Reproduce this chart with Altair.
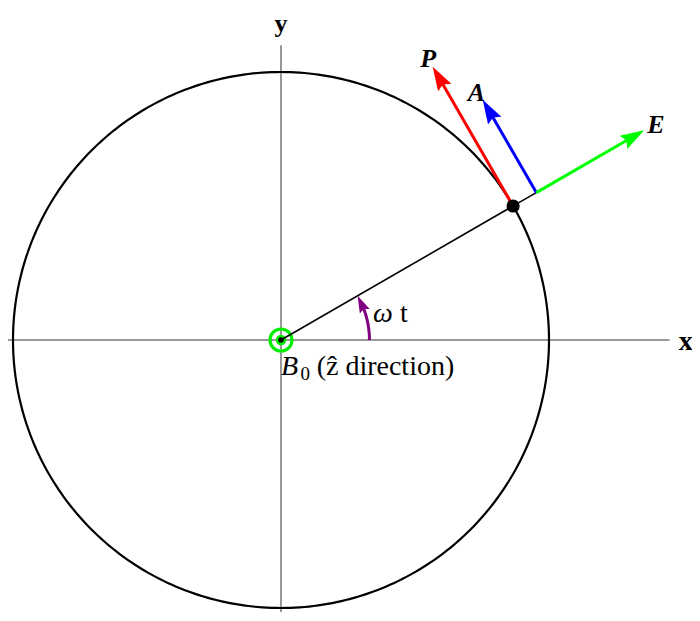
import numpy as np
import pandas as pd
import altair as alt

# ---------------- values (data units: circle radius = 1) -------------
omega_t_deg = 30.0            # angle of the rotating radius
circle_radius = 1.0
radius_extension = 1.1        # radius line is drawn out to this radius
x_axis_range = [-1.05, 1.45]
y_axis_range = [-1.05, 1.1]

vec_names = ["P", "A", "E"]
vec_start_r = [1.0, 1.1, 1.1]          # where each vector starts, along the radius
vec_rel_angle = [90.0, 90.0, 0.0]      # direction relative to the radius (deg)
vec_length = [0.6, 0.4, 0.465]
vec_colors = ["#ff0000", "#0000ff", "#00ff00"]

arc_radius = 0.33
arc_color = "#800080"
arc_head_dir = 115.0

sym_text = ["P", "A", "E"]
sym_x = [0.549, 0.729, 1.399]
sym_y = [1.02, 0.892, 0.772]

x_lab_text = ["x"]
x_lab_x = [1.51]
x_lab_y = [-0.037]
y_lab_text = ["y"]
y_lab_x = [0.0]
y_lab_y = [1.149]

b_text = ["B"]
b_x = [0.0]
b_y = [-0.1306]
sub_text = ["0"]
sub_x = [0.073]
sub_y = [-0.149]
rest_text = ["(ẑ direction)"]
rest_x = [0.133]
rest_y = [-0.1306]

om_text = ["ω"]
om_x = [0.343]
om_y = [0.067]
t_text = ["t"]
t_x = [0.444]
t_y = [0.067]

# ---------------- layout (pixels) ----------------
K = 268.0                 # pixels per data unit
OX, OY = 281.0, 340.0     # page position of the origin
MARGIN = 8.0
W, H = 684, 604
xdom = [(MARGIN - OX) / K, (MARGIN + W - OX) / K]
ydom = [(OY - MARGIN - H) / K, (OY - MARGIN) / K]
HEAD_PX = 24.0
ARC_HEAD_PX = 17.0
HEAD_PATH = "M0,0 L-0.32,1 L0,0.85 L0.32,1 Z"

xs = alt.Scale(domain=xdom)
ys = alt.Scale(domain=ydom)


def X(f="x"):
    return alt.X(f"{f}:Q", scale=xs, axis=None)


def Y(f="y"):
    return alt.Y(f"{f}:Q", scale=ys, axis=None)


th = np.deg2rad(omega_t_deg)

# axes
axes_df = pd.DataFrame({
    "x": [x_axis_range[0], 0.0], "x2": [x_axis_range[1], 0.0],
    "y": [0.0, y_axis_range[0]], "y2": [0.0, y_axis_range[1]],
})
axes = alt.Chart(axes_df).mark_rule(color="#333333", strokeWidth=1).encode(
    x=X(), x2="x2:Q", y=Y(), y2="y2:Q")

# circle
ang = np.deg2rad(np.arange(0, 361, 1.0))
circ_df = pd.DataFrame({"x": circle_radius * np.cos(ang), "y": circle_radius * np.sin(ang),
                        "i": np.arange(len(ang))})
circle = alt.Chart(circ_df).mark_line(color="black", strokeWidth=2.2).encode(
    x=X(), y=Y(), order="i:Q")

# green B0 symbol at origin
org_df = pd.DataFrame({"x": [0.0], "y": [0.0]})
ring = alt.Chart(org_df).mark_point(shape="circle", filled=False, color="#00ee00",
                                    strokeWidth=3.2, size=484, opacity=1).encode(x=X(), y=Y())
gdisk = alt.Chart(org_df).mark_point(shape="circle", filled=True, color="#00ee00",
                                     size=110, opacity=1, strokeWidth=0).encode(x=X(), y=Y())

# radius line
rad_df = pd.DataFrame({"x": [0.0], "y": [0.0],
                       "x2": [radius_extension * np.cos(th)], "y2": [radius_extension * np.sin(th)]})
radius = alt.Chart(rad_df).mark_rule(color="black", strokeWidth=1.6).encode(
    x=X(), x2="x2:Q", y=Y(), y2="y2:Q")

# vectors
rows = []
for n, r0, ra, L, c in zip(vec_names, vec_start_r, vec_rel_angle, vec_length, vec_colors):
    d = np.deg2rad(omega_t_deg + ra)
    sx, sy = r0 * np.cos(th), r0 * np.sin(th)
    tx, ty = sx + L * np.cos(d), sy + L * np.sin(d)
    Ls = L - 0.75 * HEAD_PX / K
    rows.append({"name": n, "x": sx, "y": sy, "x2": sx + Ls * np.cos(d), "y2": sy + Ls * np.sin(d),
                 "tx": tx, "ty": ty, "rot": (90.0 - (omega_t_deg + ra)) % 360, "c": c})
vec_df = pd.DataFrame(rows)
vlines = alt.Chart(vec_df).mark_rule(strokeWidth=3).encode(
    x=X(), x2="x2:Q", y=Y(), y2="y2:Q", color=alt.Color("c:N", scale=None))
vheads = alt.Chart(vec_df).mark_point(shape=HEAD_PATH, filled=True, size=4 * HEAD_PX ** 2,
                                      opacity=1, strokeWidth=0).encode(
    x=X("tx"), y=Y("ty"), angle=alt.Angle("rot:Q", scale=None), color=alt.Color("c:N", scale=None))

# omega t arc
arc_end = omega_t_deg - np.rad2deg(0.7 * ARC_HEAD_PX / (arc_radius * K))
aang = np.deg2rad(np.linspace(0, arc_end, 40))
arc_df = pd.DataFrame({"x": arc_radius * np.cos(aang), "y": arc_radius * np.sin(aang),
                       "i": np.arange(len(aang))})
arc = alt.Chart(arc_df).mark_line(color=arc_color, strokeWidth=3).encode(x=X(), y=Y(), order="i:Q")
ahead_df = pd.DataFrame({"x": [arc_radius * np.cos(th)], "y": [arc_radius * np.sin(th)],
                         "rot": [(90.0 - arc_head_dir) % 360]})
ahead = alt.Chart(ahead_df).mark_point(shape=HEAD_PATH, filled=True, color=arc_color,
                                       size=4 * ARC_HEAD_PX ** 2, opacity=1,
                                       strokeWidth=0).encode(
    x=X(), y=Y(), angle=alt.Angle("rot:Q", scale=None))

# dots
odot = alt.Chart(org_df).mark_point(shape="circle", filled=True, color="black", size=30,
                                    opacity=1, strokeWidth=0).encode(x=X(), y=Y())
pt_df = pd.DataFrame({"x": [circle_radius * np.cos(th)], "y": [circle_radius * np.sin(th)]})
pdot = alt.Chart(pt_df).mark_point(shape="circle", filled=True, color="black", size=175,
                                   opacity=1, strokeWidth=0).encode(x=X(), y=Y())

# texts
SERIF = "Liberation Serif"


def txt(t, x, y, size, style="normal", weight="normal", align="center"):
    df = pd.DataFrame({"t": t, "x": x, "y": y})
    return alt.Chart(df).mark_text(font=SERIF, fontSize=size, fontStyle=style, fontWeight=weight,
                                   align=align, baseline="alphabetic", color="black").encode(
        x=X(), y=Y(), text="t:N")


texts = [
    txt(sym_text, sym_x, sym_y, 26, "italic", "bold"),
    txt(x_lab_text, x_lab_x, x_lab_y, 28, "normal", "bold"),
    txt(y_lab_text, y_lab_x, y_lab_y, 26, "normal", "bold"),
    txt(b_text, b_x, b_y, 28, "italic", "normal", "left"),
    txt(sub_text, sub_x, sub_y, 19, "normal", "normal", "left"),
    txt(rest_text, rest_x, rest_y, 28, "normal", "normal", "left"),
    txt(om_text, om_x, om_y, 28, "italic", "normal", "left"),
    txt(t_text, t_x, t_y, 28, "normal", "normal", "left"),
]

chart = alt.layer(axes, circle, ring, gdisk, radius, vlines, vheads, arc, ahead, odot, pdot,
                  *texts).properties(
    width=W, height=H, padding=0, background="white",
    autosize=alt.AutoSizeParams(type="none")
).configure_view(strokeWidth=0, stroke="transparent")

chart.save("out.html", embed_options={"renderer": "svg", "actions": False})
